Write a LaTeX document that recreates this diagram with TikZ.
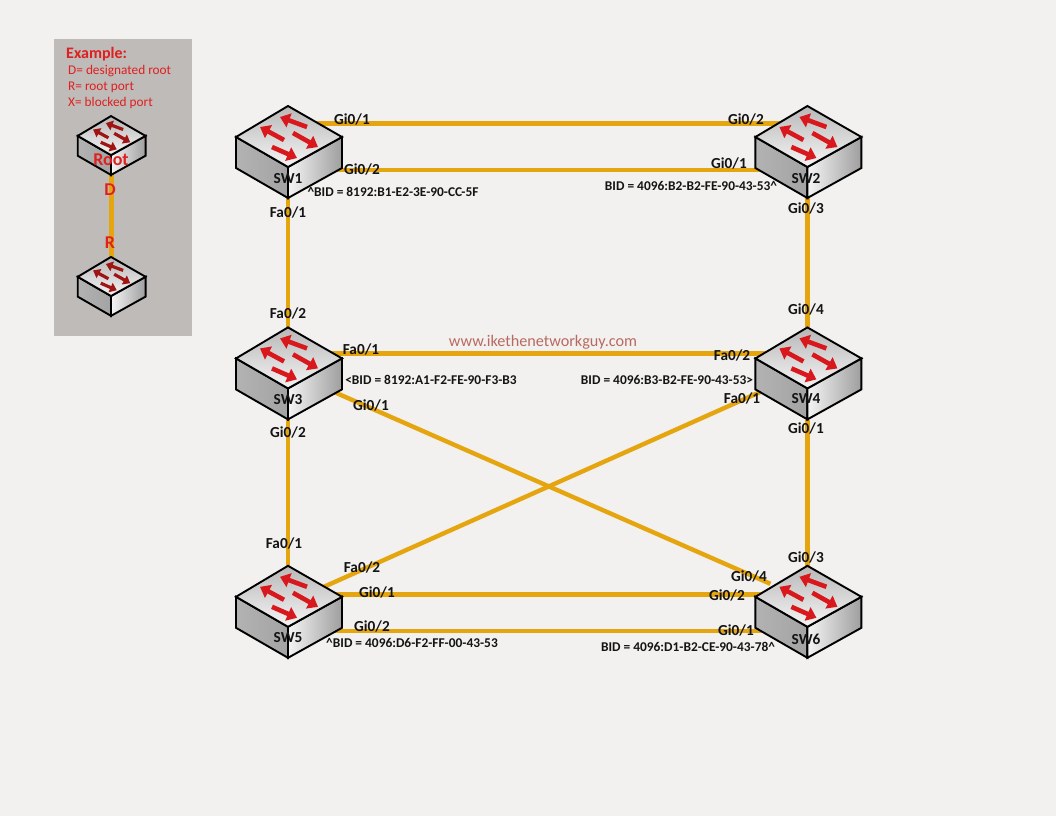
\documentclass[tikz,border=0pt]{standalone}
\usepackage{fontspec}
\setmainfont{Carlito}
\usetikzlibrary{positioning}
\usetikzlibrary{arrows.meta}
\definecolor{bgcol}{HTML}{F2F1EF}
\definecolor{panelcol}{HTML}{BFBBB8}
\definecolor{linkcol}{HTML}{E5A50F}
\definecolor{swred}{HTML}{D8181C}
\definecolor{swdark}{HTML}{A01414}
\definecolor{exred}{HTML}{DE2020}
\definecolor{urlcol}{HTML}{B86A60}
\definecolor{txtcol}{HTML}{141414}
\tikzset{
pics/netswitch/.style 2 args={code={
  \filldraw[draw=black, line width=1.9pt, left color=black!30, middle color=black!4, right color=black!36]
    (-52,-15) -- (0,15) -- (0,46) -- (-52,16) -- cycle;
  \filldraw[draw=black, line width=1.9pt, left color=black!4, right color=black!38]
    (0,15) -- (54,-15) -- (54,16) -- (0,46) -- cycle;
  \filldraw[draw=black, line width=1.9pt, top color=black!28, bottom color=black!4]
    (0,-46) -- (54,-15) -- (0,15) -- (-52,-15) -- cycle;
  \draw[-{Triangle[length=0pt 2.1,width=0pt 3.1]}, #1, line width=#2] (19,-25) -- (-8,-35);
  \draw[-{Triangle[length=0pt 2.1,width=0pt 3.1]}, #1, line width=#2] (-4,-12) -- (-28,-25);
  \draw[-{Triangle[length=0pt 2.1,width=0pt 3.1]}, #1, line width=#2] (5,-19) -- (30,-5);
  \draw[-{Triangle[length=0pt 2.1,width=0pt 3.1]}, #1, line width=#2] (-16,-5) -- (9,6);
}}
}
\begin{document}
\begin{tikzpicture}
[
x=1pt, y=-1pt,
inner sep=0pt,
swnode/.style={rectangle, minimum width=106pt, minimum height=92pt},
exnode/.style={rectangle, minimum width=68pt, minimum height=59pt},
link/.style={linkcol, line width=4.4pt},
port/.style={font=\fontsize{15.3}{17}\selectfont\bfseries, text=txtcol},
bid/.style={font=\fontsize{13.4}{15}\selectfont\bfseries, text=txtcol},
exline/.style={font=\fontsize{13.3}{15}\selectfont, text=exred, anchor=west},
exmark/.style={font=\fontsize{18}{20}\selectfont\bfseries, text=exred},
]
\useasboundingbox (0,0) rectangle (1056,816);
\fill[bgcol] (0,0) rectangle (1056,816);
\fill[panelcol] (54,39) rectangle (192,336);

\node [swnode] at (288,152) (sw1) {};
\node [swnode, right = 413pt of sw1] (sw2) {};
\node [swnode, below = 129pt of sw1] (sw3) {};
\node [swnode, right = 413pt of sw3] (sw4) {};
\node [swnode, below = 146pt of sw3] (sw5) {};
\node [swnode, right = 413pt of sw5] (sw6) {};

\node [exnode] at (111,145.5) (exroot) {};
\node [exnode, below = 81.5pt of exroot] (exsw) {};

\draw [link] ([shift={(0,-28.5)}]sw1.center) -- ([shift={(0,-28.5)}]sw2.center);
\draw [link] ([shift={(0,18)}]sw1.center) -- ([shift={(0,18)}]sw2.center);
\draw [link] (sw1) -- (sw3);
\draw [link] (sw2) -- (sw4);
\draw [link] ([shift={(0,-20)}]sw3.center) -- ([shift={(0,-20)}]sw4.center);
\draw [link] (sw3) -- (sw5);
\draw [link] (sw4) -- (sw6);
\draw [link] ([shift={(47,19)}]sw3.center) -- ([shift={(-37,-28)}]sw6.center);
\draw [link] ([shift={(27,-21)}]sw5.center) -- ([shift={(-47,18.5)}]sw4.center);
\draw [link] ([shift={(0,-17.5)}]sw5.center) -- ([shift={(0,-17.5)}]sw6.center);
\draw [link] ([shift={(0,19)}]sw5.center) -- ([shift={(0,19)}]sw6.center);
\draw [link, line width=5pt] (exroot) -- (exsw);

\pic at (sw1) {netswitch={swred}{4.6pt}};
\pic at (sw2) {netswitch={swred}{4.6pt}};
\pic at (sw3) {netswitch={swred}{4.6pt}};
\pic at (sw4) {netswitch={swred}{4.6pt}};
\pic at (sw5) {netswitch={swred}{4.6pt}};
\pic at (sw6) {netswitch={swred}{4.6pt}};
\pic[scale=0.64] at (exroot) {netswitch={swdark}{3.2pt}};
\pic[scale=0.64] at (exsw) {netswitch={swdark}{3.2pt}};

% example panel
\node [font=\fontsize{16}{18}\selectfont\bfseries, text=exred, anchor=west] at (66,54) (extitle) {Example:};
\node [exline] at (68,71) (exd) {D= designated root};
\node [exline] at (68,87) (exr) {R= root port};
\node [exline] at (68,103) (exx) {X= blocked port};
\node [exmark] at (111,160) (rootlabel) {Root};
\node [exmark] at (110,190) (dlabel) {D};
\node [exmark] at (110,243) (rlabel) {R};

% switch names
\node [port] at (288,179) (name1) {SW1};
\node [port] at (806,179) (name2) {SW2};
\node [port] at (288,400) (name3) {SW3};
\node [port] at (806,399) (name4) {SW4};
\node [port] at (288,638) (name5) {SW5};
\node [port] at (806,639) (name6) {SW6};

% ports
\node [port] at (352,119) (p1a) {Gi0/1};
\node [port] at (362,169) (p1b) {Gi0/2};
\node [port] at (288,212) (p1c) {Fa0/1};
\node [port] at (746,119) (p2a) {Gi0/2};
\node [port] at (729,163) (p2b) {Gi0/1};
\node [port] at (806,208) (p2c) {Gi0/3};
\node [port] at (288,313) (p3a) {Fa0/2};
\node [port] at (361,349) (p3b) {Fa0/1};
\node [port] at (371,405) (p3c) {Gi0/1};
\node [port] at (288,432) (p3d) {Gi0/2};
\node [port] at (806,309) (p4a) {Gi0/4};
\node [port] at (732,355) (p4b) {Fa0/2};
\node [port] at (742,398) (p4c) {Fa0/1};
\node [port] at (806,428) (p4d) {Gi0/1};
\node [port] at (284,543) (p5a) {Fa0/1};
\node [port] at (362,567) (p5b) {Fa0/2};
\node [port] at (377,592) (p5c) {Gi0/1};
\node [port] at (372,626) (p5d) {Gi0/2};
\node [port] at (806,557) (p6a) {Gi0/3};
\node [port] at (749,576) (p6b) {Gi0/4};
\node [port] at (727,595) (p6c) {Gi0/2};
\node [port] at (736,630) (p6d) {Gi0/1};

% bridge ids
\node [bid] at (393,192) (bid1) {\^{}BID = 8192:B1-E2-3E-90-CC-5F};
\node [bid] at (691,186) (bid2) {BID = 4096:B2-B2-FE-90-43-53\^{}};
\node [bid] at (431,380) (bid3) {<BID = 8192:A1-F2-FE-90-F3-B3};
\node [bid] at (667,380) (bid4) {BID = 4096:B3-B2-FE-90-43-53>};
\node [bid] at (412,643) (bid5) {\^{}BID = 4096:D6-F2-FF-00-43-53};
\node [bid] at (688,647) (bid6) {BID = 4096:D1-B2-CE-90-43-78\^{}};

\node [font=\fontsize{16.2}{18}\selectfont, text=urlcol] at (543,342) (url) {www.ikethenetworkguy.com};
\end{tikzpicture}
\end{document}
